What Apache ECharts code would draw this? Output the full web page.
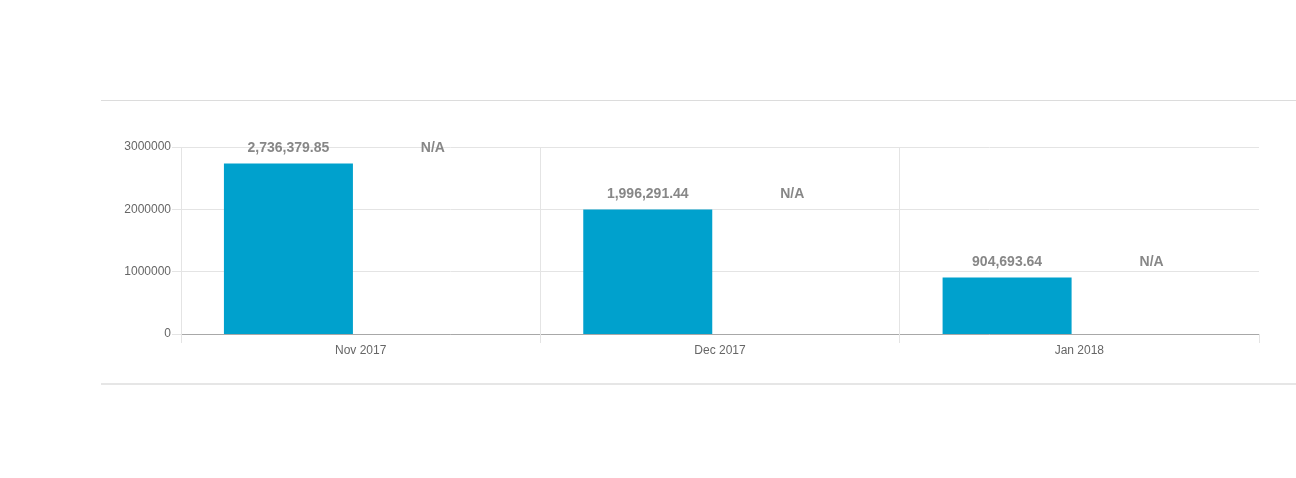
<!DOCTYPE html>
<html>
<head>
<meta charset="utf-8">
<script src="https://cdn.jsdelivr.net/npm/echarts@6/dist/echarts.min.js"></script>
<style>
html,body{margin:0;padding:0;background:#fff;}
#frame{position:absolute;left:101px;top:100px;width:1195px;height:282px;border-top:1px solid #dcdcdc;border-bottom:2px solid #e6e6e6;}
#chart{position:absolute;left:0;top:0;width:1296px;height:478px;}
</style>
</head>
<body>
<div id="frame"></div>
<div id="chart"></div>
<script>
const categories = ['Nov 2017', 'Dec 2017', 'Jan 2018'];
const actualValues = [2736379.85, 1996291.44, 904693.64];
const comparisonLabels = ['N/A', 'N/A', 'N/A'];
const yTicks = [0, 1000000, 2000000, 3000000];

const chart = echarts.init(document.getElementById('chart'), null, {renderer: 'canvas'});
const fontFamily = "'Liberation Sans', Arial, sans-serif";
function fmt(v) {
  return v.toLocaleString('en-US', {minimumFractionDigits: 2, maximumFractionDigits: 2});
}
chart.setOption({
  animation: false,
  textStyle: {fontFamily: fontFamily},
  grid: {left: 181, right: 37, top: 147, bottom: 144, containLabel: false},
  xAxis: {
    type: 'category',
    data: categories,
    axisLine: {show: true, lineStyle: {color: '#a8a8a8', width: 1}},
    axisTick: {show: true, length: 9, lineStyle: {color: '#e4e4e4'}},
    splitLine: {show: true, showMaxLine: false, lineStyle: {color: '#e4e4e4'}},
    axisLabel: {color: '#666', fontSize: 12, margin: 11, fontFamily: fontFamily}
  },
  yAxis: {
    type: 'value',
    min: yTicks[0],
    max: yTicks[yTicks.length - 1],
    interval: 1000000,
    axisLine: {show: false},
    axisTick: {show: true, length: 9, lineStyle: {color: '#e4e4e4'}},
    splitLine: {show: true, lineStyle: {color: '#e4e4e4'}},
    axisLabel: {color: '#666', fontSize: 12, margin: 10, fontFamily: fontFamily, formatter: v => String(v)}
  },
  series: [
    {
      name: 'Actual',
      type: 'bar',
      data: actualValues,
      barWidth: 129,
      barGap: '12%',
      itemStyle: {color: '#00a1cd'},
      label: {
        show: true, position: 'top', distance: 8,
        color: '#878787', fontSize: 14, fontWeight: 'bold', fontFamily: fontFamily,
        formatter: p => fmt(p.value)
      }
    },
    {
      name: 'Comparison',
      type: 'bar',
      data: actualValues,
      barWidth: 129,
      barGap: '12%',
      itemStyle: {color: 'rgba(0,0,0,0)'},
      label: {
        show: true, position: 'top', distance: 8,
        color: '#878787', fontSize: 14, fontWeight: 'bold', fontFamily: fontFamily,
        formatter: p => comparisonLabels[p.dataIndex]
      }
    }
  ]
});
</script>
</body>
</html>
